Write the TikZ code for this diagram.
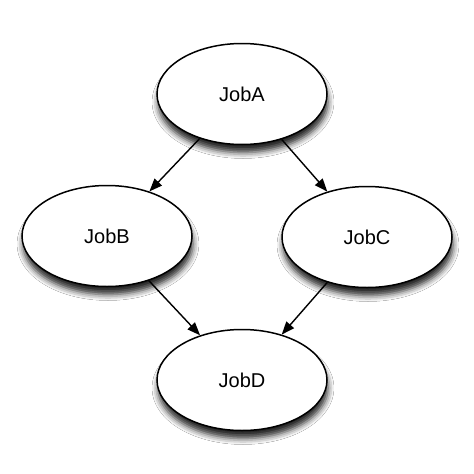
\documentclass[tikz,border=0pt]{standalone}
\usepackage{fontspec}
\setmainfont{Liberation Sans}
\usetikzlibrary{shapes.geometric,arrows.meta,shadows.blur}
\begin{document}
\begin{tikzpicture}[x=1pt, y=-1pt]
    \tikzset{>={Triangle[length=13pt,width=10pt]}}
    \tikzset{job/.style={ellipse, draw, line width=1.5pt, fill=white,
        minimum width=170pt, minimum height=101pt, inner sep=0pt,
        font=\fontsize{20}{24}\selectfont,
        blur shadow={shadow xshift=1pt, shadow yshift=-8pt,
            shadow blur radius=6pt, shadow opacity=85}}}
    \fill [white] (0,0) rectangle (474,474);
    \useasboundingbox (0,0) rectangle (474,474);
    \node [job] (jobA) at (242,94) {JobA};
    \node [job] (jobB) at (107,236) {JobB};
    \node [job] (jobC) at (367,237) {JobC};
    \node [job] (jobD) at (242,380) {JobD};
    \draw [->, line width=1.4pt] (jobA) -- (jobB);
    \draw [->, line width=1.4pt] (jobA) -- (jobC);
    \draw [->, line width=1.4pt] (jobB) -- (jobD);
    \draw [->, line width=1.4pt] (jobC) -- (jobD);
\end{tikzpicture}
\end{document}
